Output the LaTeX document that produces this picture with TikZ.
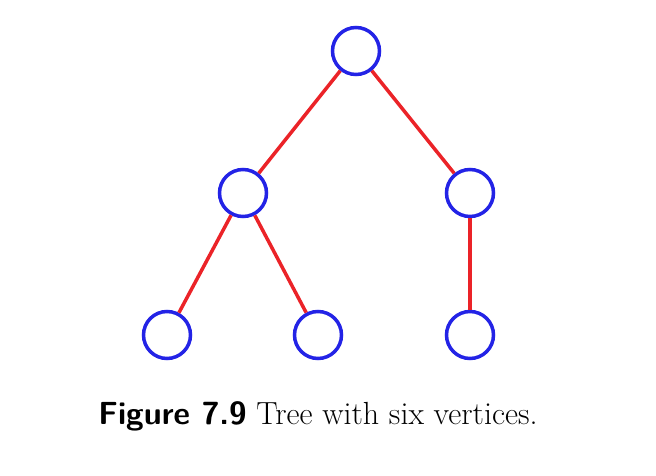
\documentclass[tikz,border=0pt]{standalone}
\definecolor{vblue}{RGB}{35,35,230}
\definecolor{ered}{RGB}{235,35,40}
\begin{document}
\begin{tikzpicture}[x=1pt,y=-1pt,
  vert/.style={circle,draw=vblue,line width=3.5pt,minimum size=47pt,inner sep=0pt,fill=white},
  edge/.style={draw=ered,line width=3.5pt}]
\useasboundingbox (0,0) rectangle (656,476);
\node[vert] (r) at (356,51) {};
\node[vert] (a) at (243,193) {};
\node[vert] (b) at (470,193) {};
\node[vert] (c) at (167,335) {};
\node[vert] (d) at (318,335) {};
\node[vert] (e) at (470,335) {};
\draw[edge] (r)--(a); \draw[edge] (r)--(b);
\draw[edge] (a)--(c); \draw[edge] (a)--(d); \draw[edge] (b)--(e);
\node (cap) at (318,416) {\fontsize{32}{38}\selectfont\textsf{\bfseries Figure 7.9} Tree with six vertices.};
\end{tikzpicture}
\end{document}
